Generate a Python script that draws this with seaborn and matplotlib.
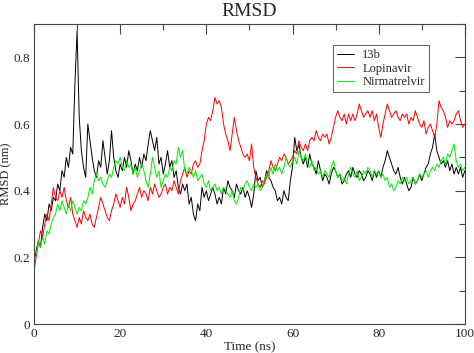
import numpy as np
import pandas as pd
import matplotlib
matplotlib.use("Agg")
import matplotlib.pyplot as plt
import seaborn as sns
from matplotlib.ticker import MultipleLocator

# sampling times (ns), one frame every 0.5 ns
time_ns = np.linspace(0, 100, 201)

# RMSD (nm), rows of 5 ns
rmsd_13b = [
    0.19, 0.22, 0.25, 0.23, 0.29, 0.33, 0.31, 0.36, 0.34, 0.38,
    0.37, 0.42, 0.40, 0.46, 0.44, 0.50, 0.47, 0.53, 0.51, 0.72,
    0.88, 0.62, 0.52, 0.47, 0.44, 0.60, 0.55, 0.50, 0.46, 0.44,
    0.49, 0.47, 0.55, 0.50, 0.45, 0.49, 0.58, 0.50, 0.46, 0.44,
    0.48, 0.46, 0.50, 0.47, 0.52, 0.49, 0.45, 0.48, 0.46, 0.50,
    0.47, 0.51, 0.49, 0.54, 0.58, 0.55, 0.52, 0.56, 0.48, 0.50,
    0.45, 0.48, 0.52, 0.47, 0.49, 0.44, 0.46, 0.41, 0.39, 0.42,
    0.40, 0.42, 0.36, 0.38, 0.33, 0.31, 0.36, 0.34, 0.41, 0.38,
    0.40, 0.37, 0.39, 0.41, 0.39, 0.36, 0.38, 0.36, 0.41, 0.39,
    0.43, 0.41, 0.40, 0.38, 0.42, 0.40, 0.39, 0.41, 0.38, 0.40,
    0.38, 0.35, 0.39, 0.46, 0.43, 0.44, 0.41, 0.43, 0.46, 0.44,
    0.43, 0.41, 0.40, 0.37, 0.38, 0.36, 0.40, 0.38, 0.37, 0.43,
    0.47, 0.56, 0.52, 0.54, 0.50, 0.48, 0.50, 0.47, 0.51, 0.48,
    0.47, 0.45, 0.49, 0.46, 0.43, 0.45, 0.44, 0.42, 0.45, 0.47,
    0.46, 0.44, 0.45, 0.42, 0.43, 0.45, 0.46, 0.44, 0.47, 0.45,
    0.44, 0.46, 0.45, 0.43, 0.44, 0.46, 0.45, 0.43, 0.46, 0.44,
    0.46, 0.44, 0.47, 0.49, 0.52, 0.50, 0.48, 0.46, 0.45, 0.47,
    0.44, 0.42, 0.44, 0.42, 0.40, 0.41, 0.44, 0.42, 0.43, 0.45,
    0.43, 0.45, 0.47, 0.48, 0.51, 0.53, 0.57, 0.52, 0.50, 0.48,
    0.49, 0.47, 0.49, 0.46, 0.48, 0.45, 0.47, 0.45, 0.47, 0.44,
    0.46,
]

rmsd_lopinavir = [
    0.16, 0.20, 0.24, 0.28, 0.26, 0.30, 0.33, 0.31, 0.36, 0.41,
    0.38, 0.37, 0.40, 0.38, 0.41, 0.37, 0.35, 0.38, 0.33, 0.31,
    0.29, 0.32, 0.30, 0.34, 0.32, 0.31, 0.33, 0.30, 0.29, 0.32,
    0.35, 0.38, 0.36, 0.34, 0.32, 0.31, 0.34, 0.36, 0.39, 0.37,
    0.35, 0.38, 0.36, 0.41, 0.38, 0.34, 0.36, 0.37, 0.39, 0.41,
    0.38, 0.40, 0.39, 0.37, 0.41, 0.39, 0.42, 0.40, 0.38, 0.39,
    0.41, 0.42, 0.39, 0.41, 0.40, 0.43, 0.41, 0.39, 0.43, 0.45,
    0.47, 0.44, 0.46, 0.45, 0.48, 0.49, 0.47, 0.48, 0.52, 0.55,
    0.60, 0.62, 0.61, 0.64, 0.68, 0.66, 0.67, 0.65, 0.60, 0.57,
    0.55, 0.52, 0.57, 0.62, 0.58, 0.55, 0.53, 0.51, 0.50, 0.51,
    0.49, 0.54, 0.47, 0.44, 0.42, 0.41, 0.43, 0.42, 0.44, 0.46,
    0.49, 0.47, 0.46, 0.48, 0.50, 0.49, 0.51, 0.50, 0.48, 0.49,
    0.50, 0.52, 0.51, 0.55, 0.53, 0.52, 0.54, 0.52, 0.55, 0.56,
    0.55, 0.58, 0.56, 0.55, 0.57, 0.56, 0.57, 0.54, 0.56, 0.59,
    0.62, 0.64, 0.62, 0.61, 0.63, 0.60, 0.63, 0.61, 0.63, 0.61,
    0.63, 0.66, 0.64, 0.62, 0.63, 0.64, 0.62, 0.64, 0.61, 0.63,
    0.59, 0.56, 0.60, 0.63, 0.66, 0.64, 0.62, 0.63, 0.64, 0.62,
    0.61, 0.63, 0.62, 0.63, 0.60, 0.62, 0.61, 0.64, 0.62, 0.60,
    0.59, 0.61, 0.57, 0.59, 0.60, 0.58, 0.56, 0.60, 0.67, 0.65,
    0.64, 0.62, 0.59, 0.61, 0.60, 0.61, 0.63, 0.64, 0.61, 0.59,
    0.60,
]

rmsd_nirmatrelvir = [
    0.23, 0.21, 0.25, 0.23, 0.26, 0.24, 0.28, 0.27, 0.30, 0.32,
    0.33, 0.36, 0.34, 0.37, 0.35, 0.33, 0.36, 0.34, 0.37, 0.35,
    0.33, 0.35, 0.34, 0.37, 0.36, 0.38, 0.41, 0.39, 0.43, 0.45,
    0.43, 0.44, 0.42, 0.41, 0.43, 0.45, 0.44, 0.47, 0.49, 0.48,
    0.50, 0.47, 0.46, 0.49, 0.47, 0.48, 0.45, 0.47, 0.44, 0.46,
    0.48, 0.46, 0.43, 0.41, 0.45, 0.50, 0.47, 0.44, 0.46, 0.41,
    0.43, 0.45, 0.44, 0.47, 0.46, 0.49, 0.48, 0.53, 0.50, 0.52,
    0.46, 0.45, 0.47, 0.46, 0.44, 0.46, 0.43, 0.44, 0.45, 0.42,
    0.41, 0.43, 0.40, 0.41, 0.42, 0.40, 0.41, 0.39, 0.41, 0.40,
    0.39, 0.38, 0.40, 0.37, 0.36, 0.38, 0.41, 0.40, 0.42, 0.43,
    0.41, 0.40, 0.42, 0.41, 0.42, 0.40, 0.41, 0.43, 0.45, 0.44,
    0.47, 0.45, 0.48, 0.46, 0.47, 0.45, 0.47, 0.50, 0.48, 0.47,
    0.49, 0.50, 0.48, 0.52, 0.50, 0.49, 0.51, 0.48, 0.47, 0.49,
    0.46, 0.47, 0.45, 0.46, 0.44, 0.46, 0.45, 0.44, 0.47, 0.49,
    0.46, 0.44, 0.45, 0.43, 0.44, 0.42, 0.45, 0.47, 0.45, 0.44,
    0.46, 0.43, 0.44, 0.46, 0.45, 0.47, 0.46, 0.44, 0.46, 0.45,
    0.46, 0.44, 0.45, 0.43, 0.44, 0.41, 0.42, 0.40, 0.41, 0.43,
    0.42, 0.44, 0.43, 0.44, 0.42, 0.43, 0.44, 0.42, 0.43, 0.45,
    0.44, 0.45, 0.46, 0.44, 0.46, 0.47, 0.46, 0.48, 0.47, 0.49,
    0.50, 0.48, 0.51, 0.50, 0.52, 0.54, 0.49, 0.47, 0.48, 0.46,
    0.47,
]

ligands = ["13b", "Lopinavir", "Nirmatrelvir"]
colors = ["#000000", "#ff0000", "#00ee00"]

# long-form table for seaborn
frames = []
for name, vals in zip(ligands, [rmsd_13b, rmsd_lopinavir, rmsd_nirmatrelvir]):
    frames.append(pd.DataFrame({"time": time_ns, "rmsd": vals, "ligand": name}))
df = pd.concat(frames, ignore_index=True)

sns.set_style("white")
plt.rcParams["font.family"] = ["Liberation Serif", "DejaVu Serif"]

fig = plt.figure(figsize=(4.74, 3.53), dpi=100)
ax = fig.add_axes([0.0717, 0.082, 0.909, 0.85])

sns.lineplot(data=df, x="time", y="rmsd", hue="ligand", hue_order=ligands,
             palette=colors, estimator=None, sort=False, linewidth=0.7,
             legend=False, ax=ax)

ax.set_xlim(0, 100)
ax.set_ylim(0, 0.9)
ax.xaxis.set_minor_locator(MultipleLocator(10))
ax.yaxis.set_minor_locator(MultipleLocator(0.1))
ax.set_yticks([0, 0.2, 0.4, 0.6, 0.8])
ax.set_yticklabels(["0", "0.2", "0.4", "0.6", "0.8"])
ax.set_xticks([0, 20, 40, 60, 80, 100])
ax.set_xticklabels(["0", "20", "40", "60", "80", "100"])
ax.tick_params(which="both", direction="in", top=True, right=True,
               labelsize=9.5, color="#444444", width=0.8, pad=3)
ax.tick_params(which="major", length=7)
ax.tick_params(which="minor", length=4)
for sp in ax.spines.values():
    sp.set_color("#444444")
    sp.set_linewidth(0.8)

ax.set_xlabel("Time (ns)", fontsize=9.5, labelpad=1)
ax.set_ylabel("RMSD (nm)", fontsize=9, labelpad=1)
ax.set_title("RMSD", fontsize=14, pad=6)

# legend built from the three drawn lines
data_lines = ax.get_lines()[:3]
leg = ax.legend(data_lines, ligands, loc="upper left",
                bbox_to_anchor=(0.694, 0.93), borderaxespad=0, fontsize=9,
                frameon=True, fancybox=False, handlelength=1.3,
                borderpad=0.35, labelspacing=0.1, handletextpad=0.7)
leg.get_frame().set_edgecolor("#333333")
leg.get_frame().set_linewidth(0.7)

fig.savefig("out.png", dpi=100)
